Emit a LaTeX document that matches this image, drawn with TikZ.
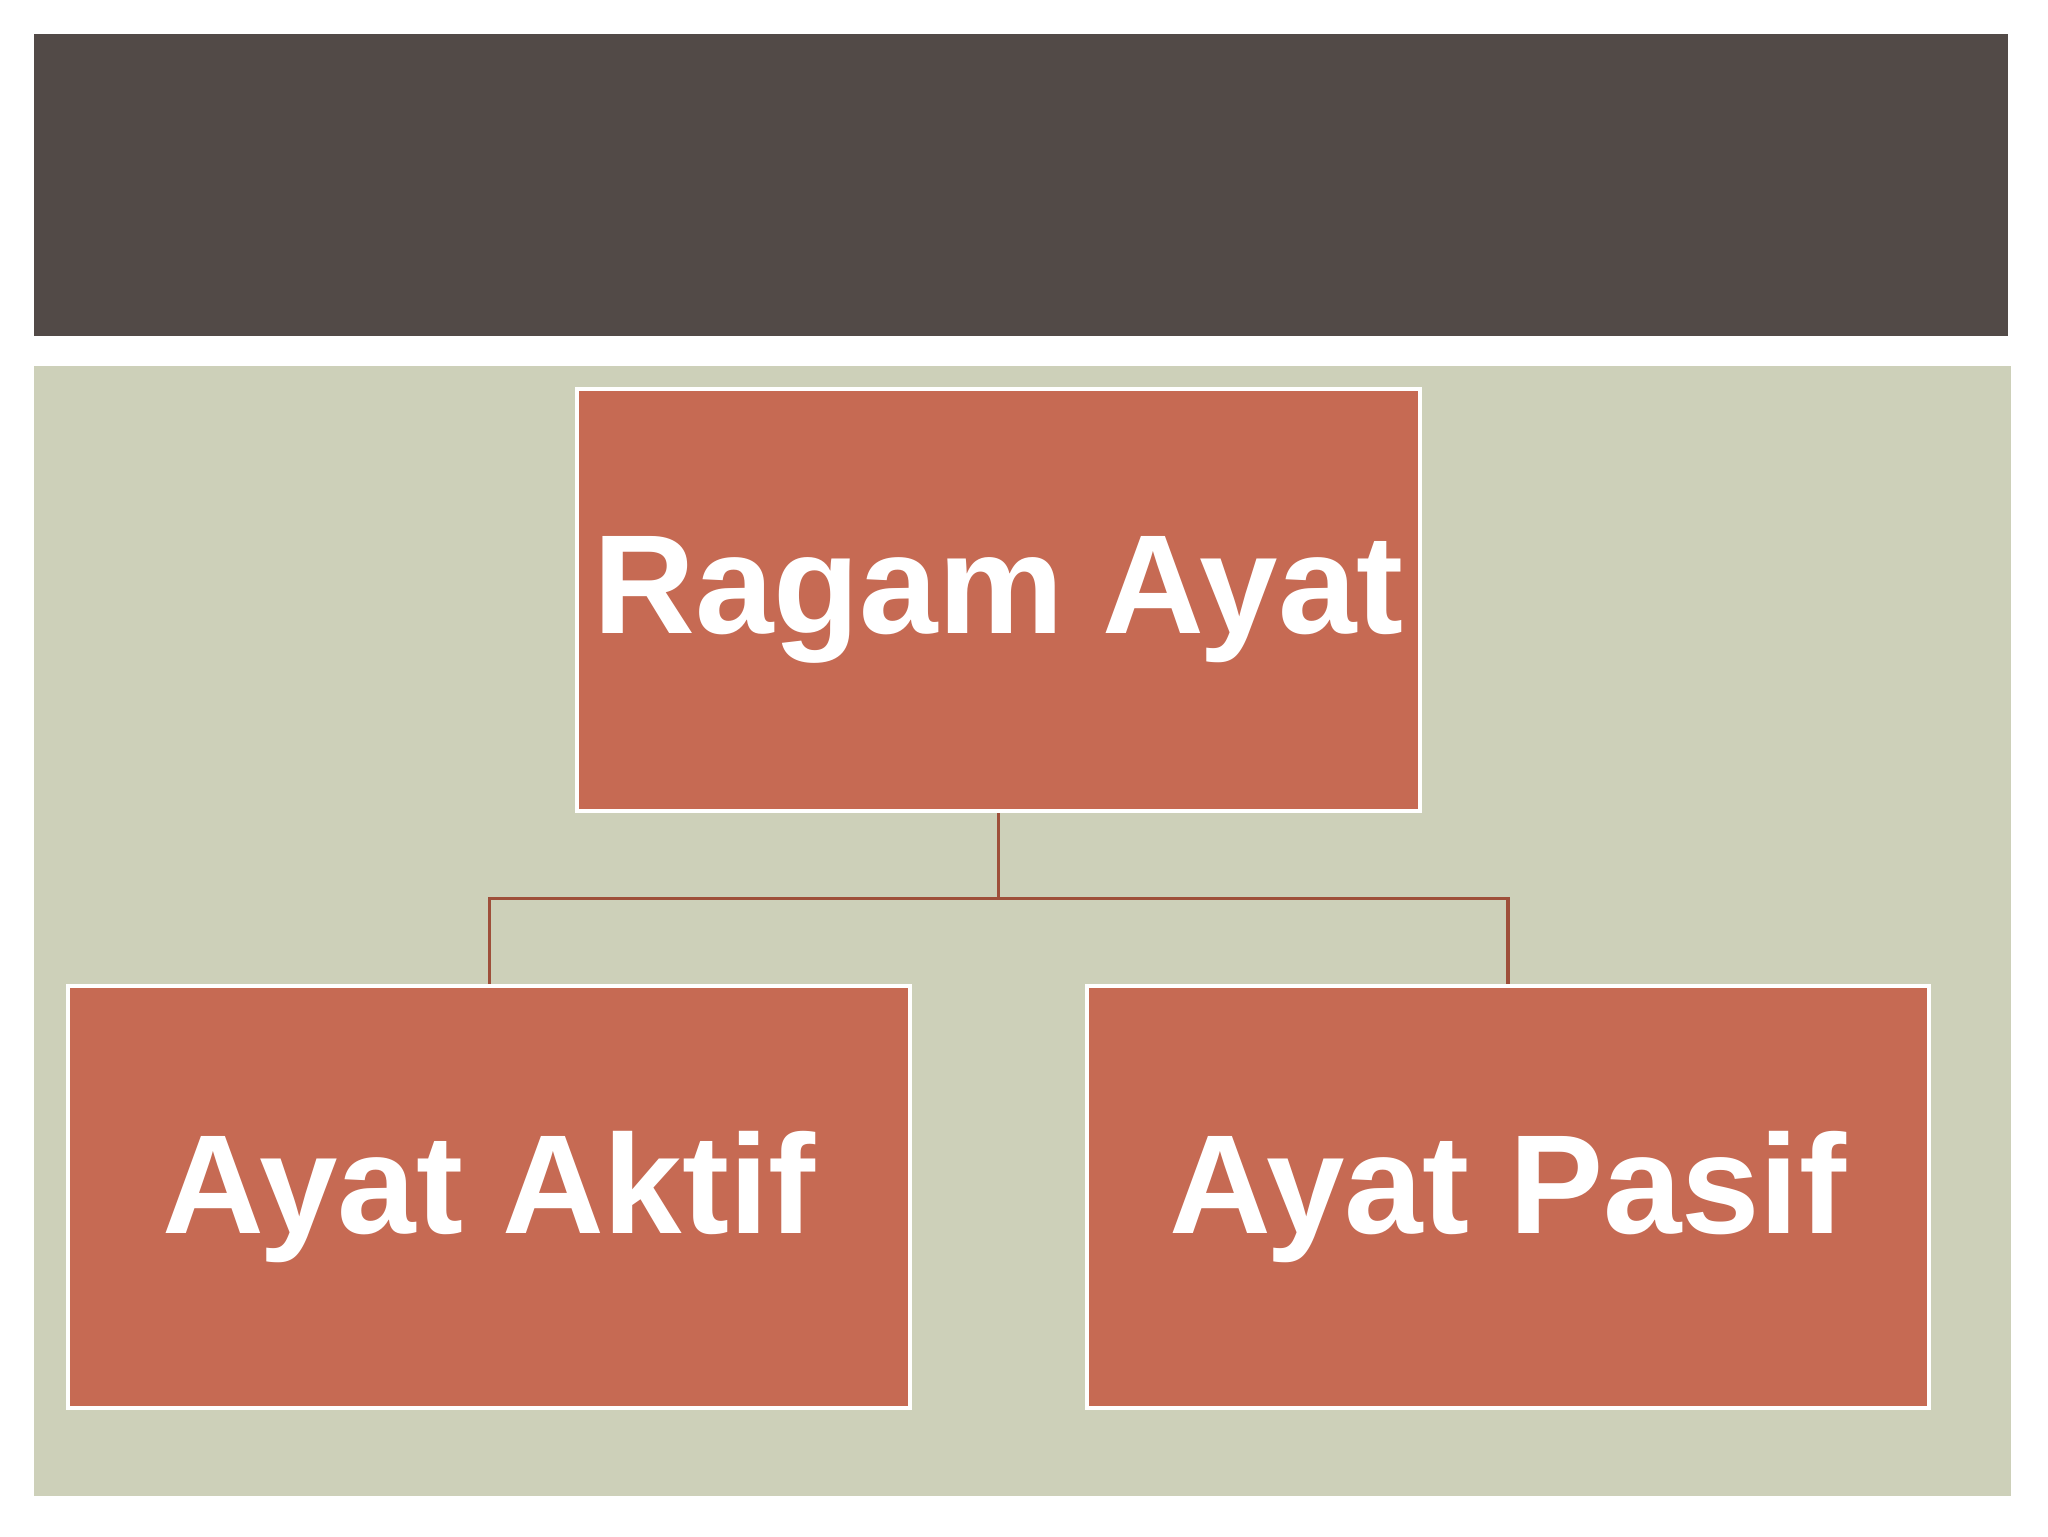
\documentclass[tikz,border=0pt]{standalone}
\usepackage{fontspec}
\setmainfont{Liberation Sans}
\definecolor{band}{HTML}{524A47}
\definecolor{panel}{HTML}{CDD0B9}
\definecolor{boxc}{HTML}{C66A53}
\definecolor{linec}{HTML}{9E4F3A}
\begin{document}
\begin{tikzpicture}[x=1pt,y=-1pt,
  box/.style={draw=white,line width=3pt,fill=boxc,minimum width=645pt,minimum height=323pt,inner sep=0pt,
    font=\fontsize{108}{120}\selectfont\bfseries,text=white},
  conn/.style={draw=linec,line width=2.5pt}]
\useasboundingbox (0,0) rectangle (1568,1176);
\fill[white] (0,0) rectangle (1568,1176);
\fill[band] (26,26) rectangle (1537,257);
\fill[panel] (26,280) rectangle (1540,1145);
\node[box] (top) at (764.5,459.5) {Ragam Ayat};
\node[box] (left) at (374.5,916.5) {Ayat Aktif};
\node[box] (right) at (1154.5,916.5) {Ayat Pasif};
\coordinate (mid) at (764.5,688);
\draw[conn] (top.south) -- (mid) -| (left.north);
\draw[conn] (mid) -| (right.north);
\end{tikzpicture}
\end{document}
